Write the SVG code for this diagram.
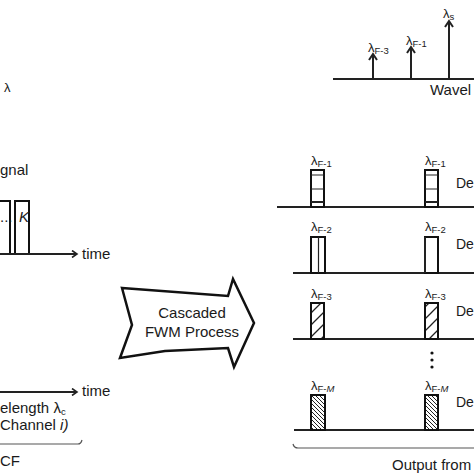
<svg xmlns="http://www.w3.org/2000/svg" width="474" height="474" viewBox="0 0 474 474">
<style>
.t{font-family:"Liberation Sans",Arial,sans-serif;font-size:15px;fill:#1a1a1a}
.de{font-family:"Liberation Sans",Arial,sans-serif;font-size:14px;fill:#1a1a1a}
.lam{font-family:"Liberation Sans",Arial,sans-serif;font-size:13px;fill:#1a1a1a}
.sub{font-size:9.5px}
.ax{stroke:#222;stroke-width:2;fill:none}
.thin{stroke:#222;stroke-width:1.2;fill:none}
.box{stroke:#111;stroke-width:2;fill:#fff}
.brace{stroke:#555;stroke-width:1.2;fill:none}
</style>
<defs>
<marker id="ah" markerWidth="8" markerHeight="8" refX="6" refY="4" orient="auto" markerUnits="userSpaceOnUse">
<path d="M1,0.5 L6,4 L1,7.5" fill="none" stroke="#222" stroke-width="1.6"/>
</marker>
<pattern id="h3" patternUnits="userSpaceOnUse" width="12" height="12">
<path d="M-3,3 L3,-3 M0,12 L12,0 M9,15 L15,9" stroke="#222" stroke-width="1.3"/>
</pattern>
<pattern id="hm" patternUnits="userSpaceOnUse" width="4" height="4">
<path d="M0,0 L4,4 M-1,3 L1,5 M3,-1 L5,1" stroke="#222" stroke-width="1"/>
</pattern>
</defs>
<rect width="474" height="474" fill="#fff"/>

<g id="spectrum">
<line x1="333" y1="79" x2="474" y2="79" class="ax"/>
<path d="M373,79 V54 M369,60 L373,54 L377,60" class="ax"/>
<path d="M411,79 V47 M407,53 L411,47 L415,53" class="ax"/>
<path d="M449,79 V21 M445,27 L449,21 L453,27" class="ax"/>
<text x="368" y="52" class="lam" font-size="14">λ<tspan class="sub" font-size="10" dy="2">F-3</tspan></text>
<text x="406" y="45" class="lam" font-size="14">λ<tspan class="sub" font-size="10" dy="2">F-1</tspan></text>
<text x="443" y="18" class="lam" font-size="14">λ<tspan class="sub" font-size="10" dy="2">s</tspan></text>
<text x="430" y="95" class="t">Wavel</text>
</g>

<g id="input-signal">
<text x="4" y="92" class="lam" font-size="14">λ</text>
<text x="0" y="175" class="t" font-size="14">gnal</text>
<path d="M-2,254 V201 H10 V254" class="box" fill="none"/>
<text x="0" y="222" class="t" font-size="8" fill="#777">...</text>
<rect x="15" y="201" width="14" height="53" class="box"/>
<text x="19" y="222" class="t" font-size="9" font-style="italic">K</text>
<line x1="0" y1="254" x2="77" y2="254" class="ax" marker-end="url(#ah)"/>
<text x="82" y="259" class="t" font-size="16">time</text>
</g>

<g id="carrier">
<line x1="0" y1="392" x2="77" y2="392" class="ax" marker-end="url(#ah)"/>
<text x="82" y="396" class="t" font-size="16">time</text>
<text x="0" y="413" class="t">elength <tspan>λ</tspan><tspan font-size="9.5" dy="2">c</tspan></text>
<text x="0" y="430" class="t">Channel <tspan font-style="italic">i)</tspan></text>
<path d="M0,444 H78 Q81,444 82,440" class="brace"/>
<text x="0" y="466" class="t">CF</text>
</g>

<g id="fwm-arrow">
<path d="M122,288 L228,296 L233,279 L254,323 L234,367 L228,348 L165,351 L120,358 L132,325 Z" fill="#fff" stroke="#111" stroke-width="2.5" stroke-linejoin="miter"/>
<text x="192" y="318" class="t" font-size="16" text-anchor="middle">Cascaded</text>
<text x="192" y="337" class="t" font-size="16" text-anchor="middle">FWM Process</text>
</g>

<g id="row1">
<line x1="277" y1="207" x2="474" y2="207" class="ax"/>
<rect x="311" y="170" width="13" height="37" class="box"/>
<path d="M311,175 H324 M311,189 H324" class="thin"/>
<path d="M311,202 H324" class="ax"/>
<rect x="425" y="170" width="13" height="37" class="box"/>
<path d="M425,175 H438 M425,189 H438" class="thin"/>
<path d="M425,202 H438" class="ax"/>
<text x="311" y="165" class="lam">λ<tspan class="sub" dy="2">F-1</tspan></text>
<text x="425" y="165" class="lam">λ<tspan class="sub" dy="2">F-1</tspan></text>
<text x="456" y="188" class="de">De</text>
</g>

<g id="row2">
<line x1="293" y1="273" x2="474" y2="273" class="ax"/>
<rect x="311" y="237" width="14" height="36" class="box" stroke-width="1.6"/>
<line x1="318.5" y1="237" x2="318.5" y2="273" class="thin"/>
<rect x="425" y="237" width="13" height="36" class="box" stroke-width="1.5"/>
<line x1="425" y1="237" x2="425" y2="273" class="ax"/>
<text x="311" y="231" class="lam">λ<tspan class="sub" dy="2">F-2</tspan></text>
<text x="425" y="231" class="lam">λ<tspan class="sub" dy="2">F-2</tspan></text>
<text x="456" y="249" class="de">De</text>
</g>

<g id="row3">
<line x1="293" y1="339" x2="474" y2="339" class="ax"/>
<rect x="311" y="303" width="13" height="36" fill="url(#h3)" stroke="#111" stroke-width="2"/>
<rect x="425" y="303" width="13" height="36" fill="url(#h3)" stroke="#111" stroke-width="2"/>
<text x="311" y="298" class="lam">λ<tspan class="sub" dy="2">F-3</tspan></text>
<text x="425" y="298" class="lam">λ<tspan class="sub" dy="2">F-3</tspan></text>
<text x="456" y="316" class="de">De</text>
</g>

<g id="dots">
<circle cx="432" cy="353" r="1.6" fill="#111"/>
<circle cx="432" cy="360" r="1.6" fill="#111"/>
<circle cx="432" cy="367" r="1.6" fill="#111"/>
</g>

<g id="rowM">
<line x1="294" y1="430" x2="474" y2="430" class="ax"/>
<rect x="311" y="395" width="14" height="35" fill="url(#hm)" stroke="#111" stroke-width="2"/>
<rect x="425" y="395" width="13" height="35" fill="url(#hm)" stroke="#111" stroke-width="2"/>
<text x="311" y="390" class="lam">λ<tspan class="sub" dy="2">F-<tspan font-style="italic">M</tspan></tspan></text>
<text x="425" y="390" class="lam">λ<tspan class="sub" dy="2">F-<tspan font-style="italic">M</tspan></tspan></text>
<text x="456" y="407" class="de">De</text>
</g>

<g id="output">
<path d="M293,444 Q294,448 298,448 H474" class="brace"/>
<text x="392" y="470" class="t">Output from</text>
</g>
</svg>
